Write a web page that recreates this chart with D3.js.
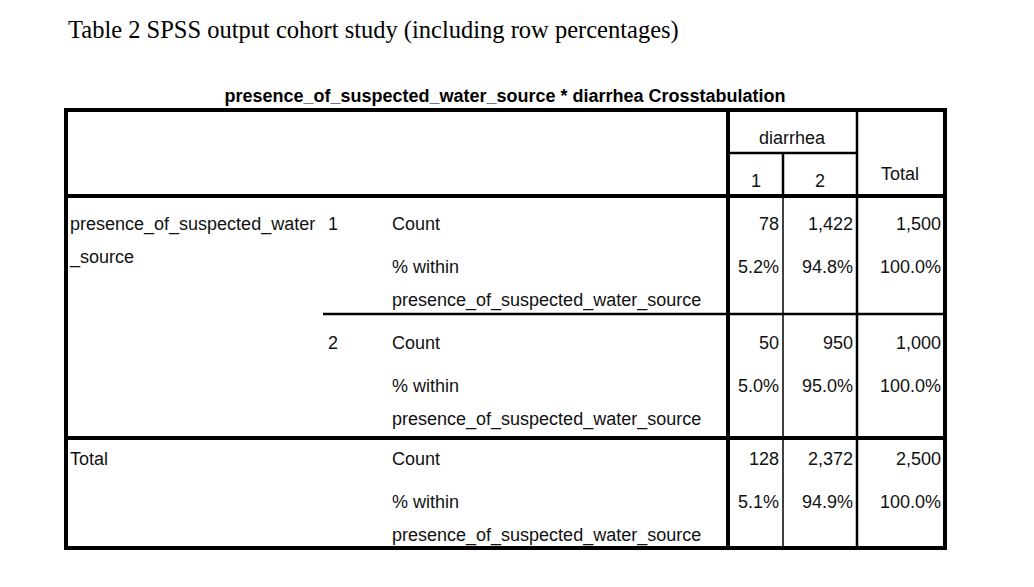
<!DOCTYPE html>
<html><head><meta charset="utf-8">
<script src="https://cdn.jsdelivr.net/npm/d3@7"></script>
<style>body{margin:0;background:#fff}</style>
</head><body>
<svg id="c" width="1034" height="587"></svg>
<script>
// --- table content ---
const caption = "Table 2 SPSS output cohort study (including row percentages)";
const tableTitle = "presence_of_suspected_water_source * diarrhea Crosstabulation";
const colHeaders = ["1", "2", "Total"];
const groupLabels = ["presence_of_suspected_water", "Total"];
const subLabels = ["1", "2", ""];
const counts = [["78", "1,422", "1,500"], ["50", "950", "1,000"], ["128", "2,372", "2,500"]];
const pcts = [["5.2%", "94.8%", "100.0%"], ["5.0%", "95.0%", "100.0%"], ["5.1%", "94.9%", "100.0%"]];

const svg = d3.select("#c");
const font = "Arial, 'Liberation Sans', sans-serif";

// layout
const L = 66, R = 945, T = 110, B = 548, headB = 196, mid = 728;
const colR = [779, 853, 941];         // right edges for numbers
const blockTop = [224, 343, 459];
const lineOff = [0, 43, 76];

svg.append("text").attr("x", 68).attr("y", 38).text(caption)
  .style("font-family", "'Liberation Serif', 'Times New Roman', serif").style("font-size", "24.5px");

svg.append("text").attr("x", 505).attr("y", 102).attr("text-anchor", "middle").text(tableTitle)
  .style("font-family", font).style("font-size", "18px").style("font-weight", "bold");

const line = (x1, y1, x2, y2, w) => svg.append("line")
  .attr("x1", x1).attr("y1", y1).attr("x2", x2).attr("y2", y2)
  .attr("stroke", "#000").attr("stroke-width", w);

// grid
line(mid, 153, 857, 153, 2.5);
line(783, 153, 783, 196, 2.5);
line(857, T, 857, B, 2.5);
line(783, headB, 783, B, 1.5);
line(mid, T, mid, B, 4);
line(L, headB, R, headB, 4);
line(323, 314, R, 314, 2.5);
line(L, 438, R, 438, 4);
svg.append("rect").attr("x", L).attr("y", T).attr("width", R - L).attr("height", B - T)
  .attr("fill", "none").attr("stroke", "#000").attr("stroke-width", 4);

const txt = (x, y, s, anchor) => svg.append("text").attr("x", x).attr("y", y + 6)
  .attr("text-anchor", anchor || "start").text(s)
  .style("font-family", font).style("font-size", "18px").style("fill", "#111");

// headers
txt(792, 138, "diarrhea", "middle");
txt(756, 181, colHeaders[0], "middle");
txt(820, 181, colHeaders[1], "middle");
txt(900, 174, colHeaders[2], "middle");

// row labels
txt(70, 224, groupLabels[0]);
txt(70, 257, "_source");
txt(70, 459, groupLabels[1]);

blockTop.forEach((y0, i) => {
  if (subLabels[i]) txt(328, y0, subLabels[i]);
  txt(392, y0 + lineOff[0], "Count");
  txt(392, y0 + lineOff[1], "% within");
  txt(392, y0 + lineOff[2], "presence_of_suspected_water_source");
  counts[i].forEach((v, j) => txt(colR[j], y0 + lineOff[0], v, "end"));
  pcts[i].forEach((v, j) => txt(colR[j], y0 + lineOff[1], v, "end"));
});
</script>
</body></html>
